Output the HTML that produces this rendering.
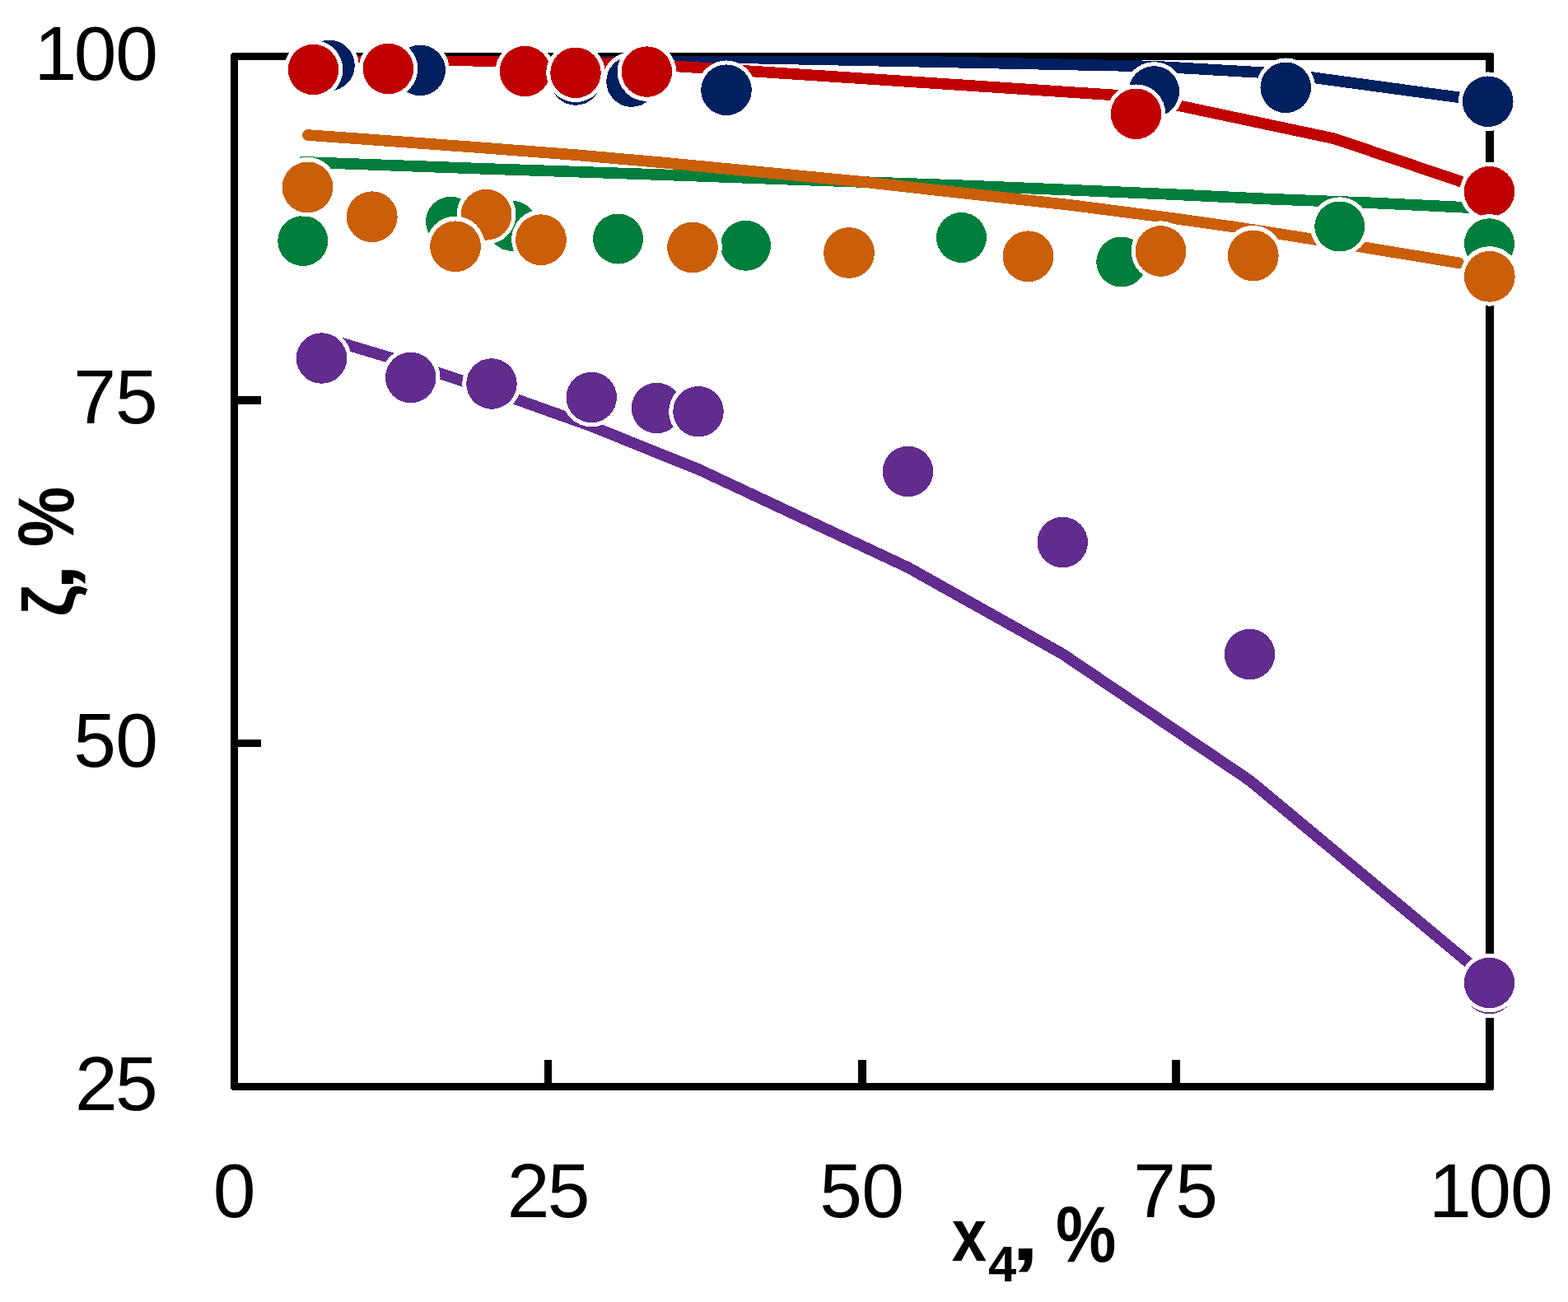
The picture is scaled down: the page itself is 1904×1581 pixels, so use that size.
<!DOCTYPE html>
<html lang="en">
<head>
<meta charset="utf-8">
<title>Chart</title>
<style>
html,body{margin:0;padding:0;background:#fff;}
body{width:1904px;height:1581px;overflow:hidden;}
svg{display:block;}
text{font-family:"Liberation Sans",sans-serif;fill:#000;}
.t{font-size:93px;}
.b{font-weight:bold;}
</style>
</head>
<body>
<svg width="1904" height="1581" viewBox="0 0 1904 1581">
<rect x="0" y="0" width="1904" height="1581" fill="#fff"/>
<g shape-rendering="crispEdges">
<path fill="#000" fill-rule="evenodd" d="M282 64H1812L1814 66V1322L1812 1324H282L280 1322V66ZM289 73V1315H1804V73Z"/>
<rect x="289" y="481" width="28" height="10" fill="#000"/>
<rect x="289" y="898" width="28" height="9" fill="#000"/>
<rect x="661" y="1287" width="9" height="28" fill="#000"/>
<rect x="1042" y="1287" width="10" height="28" fill="#000"/>
<rect x="1423" y="1287" width="10" height="28" fill="#000"/>
<clipPath id="plot"><rect x="284" y="68" width="1526" height="1252"/></clipPath>
<g clip-path="url(#plot)" fill="none" stroke-width="13.6" stroke-linecap="round" stroke-linejoin="round">
<polyline stroke="#622B8E" points="390.5,409.3 498.75,441.8 597,474.2 718.25,517.5 797.5,549.6 848,569.8 1102.5,689 1290.25,794.1 1517.5,947.7 1808.5,1190"/>
<polyline stroke="#002060" points="400,69 882,69.9 1401.5,80.6 1561.25,89.7 1806.75,123.05"/>
<polyline stroke="#C00000" points="380.5,72 471.5,72.6 570,73.65 636.25,74.6 699,76 735,77.05 785.5,78.1 1379.5,117.2 1620.5,168.4 1809,232.4"/>
<polyline stroke="#007F3C" points="367.75,196.8 580,204.6 700,208.6 800,212.05 1050,221.1 1180,225.7 1300,230.7 1420,235.87 1540,241.6 1670,246.55 1774,251.6 1809,253.3"/>
<polyline stroke="#CB5F09" points="374,164.05 450,169.5 580,179 700,188.2 800,197 1050,221.05 1180,235.7 1300,249 1420,264.46 1496,275.15 1540,281.9 1660,300.9 1771.3,319.3"/>
</g>
<g fill="#622B8E">
<ellipse cx="390.5" cy="435" rx="35.8" ry="35.8" fill="#fff"/><circle cx="390.5" cy="435" r="30.75"/>
<ellipse cx="498.75" cy="458.5" rx="35.8" ry="35.8" fill="#fff"/><circle cx="498.75" cy="458.5" r="30.75"/>
<ellipse cx="597" cy="466" rx="35.8" ry="35.8" fill="#fff"/><circle cx="597" cy="466" r="30.75"/>
<ellipse cx="718.25" cy="482.5" rx="35.8" ry="35.8" fill="#fff"/><circle cx="718.25" cy="482.5" r="30.75"/>
<ellipse cx="797.5" cy="495.5" rx="35.8" ry="35.8" fill="#fff"/><circle cx="797.5" cy="495.5" r="30.75"/>
<ellipse cx="848" cy="499.75" rx="35.8" ry="35.8" fill="#fff"/><circle cx="848" cy="499.75" r="30.75"/>
<ellipse cx="1102.5" cy="572.5" rx="35.8" ry="35.8" fill="#fff"/><circle cx="1102.5" cy="572.5" r="30.75"/>
<ellipse cx="1290.25" cy="658.5" rx="35.8" ry="35.8" fill="#fff"/><circle cx="1290.25" cy="658.5" r="30.75"/>
<ellipse cx="1517.5" cy="794.5" rx="35.8" ry="35.8" fill="#fff"/><circle cx="1517.5" cy="794.5" r="30.75"/>
<ellipse cx="1808.5" cy="1200.5" rx="35.8" ry="35.8" fill="#fff"/><circle cx="1808.5" cy="1200.5" r="30.75"/>
<ellipse cx="1808.5" cy="1193.5" rx="35.8" ry="35.8" fill="#fff"/><circle cx="1808.5" cy="1193.5" r="30.75"/>
</g>
<g fill="#002060">
<ellipse cx="400" cy="79.5" rx="35.85" ry="35.85" fill="#fff"/><circle cx="400" cy="79.5" r="30.8"/>
<ellipse cx="510.2" cy="85.35" rx="35.85" ry="35.85" fill="#fff"/><circle cx="510.2" cy="85.35" r="30.8"/>
<ellipse cx="699" cy="97" rx="35.85" ry="35.85" fill="#fff"/><circle cx="699" cy="97" r="30.8"/>
<ellipse cx="767" cy="99" rx="35.85" ry="35.85" fill="#fff"/><circle cx="767" cy="99" r="30.8"/>
<ellipse cx="882" cy="109.25" rx="35.85" ry="35.85" fill="#fff"/><circle cx="882" cy="109.25" r="30.8"/>
<ellipse cx="1401.3" cy="111" rx="35.85" ry="35.85" fill="#fff"/><circle cx="1401.3" cy="111" r="30.8"/>
<ellipse cx="1561.25" cy="106.3" rx="35.85" ry="35.85" fill="#fff"/><circle cx="1561.25" cy="106.3" r="30.8"/>
<ellipse cx="1806.75" cy="123.25" rx="35.85" ry="35.85" fill="#fff"/><circle cx="1806.75" cy="123.25" r="30.8"/>
</g>
<g fill="#C00000">
<ellipse cx="380.5" cy="84.5" rx="35.8" ry="35.8" fill="#fff"/><circle cx="380.5" cy="84.5" r="30.75"/>
<ellipse cx="471.4" cy="83.45" rx="35.8" ry="35.8" fill="#fff"/><circle cx="471.4" cy="83.45" r="30.75"/>
<ellipse cx="637.4" cy="86.5" rx="35.8" ry="35.8" fill="#fff"/><circle cx="637.4" cy="86.5" r="30.75"/>
<ellipse cx="699" cy="88.3" rx="35.8" ry="35.8" fill="#fff"/><circle cx="699" cy="88.3" r="30.75"/>
<ellipse cx="785.4" cy="87.1" rx="35.8" ry="35.8" fill="#fff"/><circle cx="785.4" cy="87.1" r="30.75"/>
<ellipse cx="1379.5" cy="138.25" rx="35.8" ry="35.8" fill="#fff"/><circle cx="1379.5" cy="138.25" r="30.75"/>
<ellipse cx="1808.5" cy="232.75" rx="35.8" ry="35.8" fill="#fff"/><circle cx="1808.5" cy="232.75" r="30.75"/>
</g>
<g fill="#007F3C">
<ellipse cx="367.75" cy="292.5" rx="35.7" ry="35.7" fill="#fff"/><circle cx="367.75" cy="292.5" r="30.5"/>
<ellipse cx="547.5" cy="269.25" rx="35.7" ry="35.7" fill="#fff"/><circle cx="547.5" cy="269.25" r="30.5"/>
<ellipse cx="622.2" cy="274.4" rx="35.7" ry="35.7" fill="#fff"/><circle cx="622.2" cy="274.4" r="30.5"/>
<ellipse cx="750.5" cy="290" rx="35.7" ry="35.7" fill="#fff"/><circle cx="750.5" cy="290" r="30.5"/>
<ellipse cx="905.5" cy="298.25" rx="35.7" ry="35.7" fill="#fff"/><circle cx="905.5" cy="298.25" r="30.5"/>
<ellipse cx="1167.5" cy="288.5" rx="35.7" ry="35.7" fill="#fff"/><circle cx="1167.5" cy="288.5" r="30.5"/>
<ellipse cx="1361.75" cy="318" rx="35.7" ry="35.7" fill="#fff"/><circle cx="1361.75" cy="318" r="30.5"/>
<ellipse cx="1626.75" cy="275" rx="35.7" ry="35.7" fill="#fff"/><circle cx="1626.75" cy="275" r="30.5"/>
<ellipse cx="1808.5" cy="295.8" rx="35.7" ry="35.7" fill="#fff"/><circle cx="1808.5" cy="295.8" r="30.5"/>
</g>
<g fill="#CB5F09">
<ellipse cx="373.5" cy="227.1" rx="35.9" ry="36.3" fill="#fff"/><circle cx="373.5" cy="227.5" r="30.9"/>
<ellipse cx="451.75" cy="262.85" rx="35.9" ry="36.3" fill="#fff"/><circle cx="451.75" cy="263.25" r="30.9"/>
<ellipse cx="590.6" cy="260.35" rx="35.9" ry="36.3" fill="#fff"/><circle cx="590.6" cy="260.75" r="30.9"/>
<ellipse cx="553.05" cy="298.9" rx="35.9" ry="36.3" fill="#fff"/><circle cx="553.05" cy="299.3" r="30.9"/>
<ellipse cx="657" cy="290.85" rx="35.9" ry="36.3" fill="#fff"/><circle cx="657" cy="291.25" r="30.9"/>
<ellipse cx="841" cy="300.1" rx="35.9" ry="36.3" fill="#fff"/><circle cx="841" cy="300.5" r="30.9"/>
<ellipse cx="1031" cy="306.6" rx="35.9" ry="36.3" fill="#fff"/><circle cx="1031" cy="307" r="30.9"/>
<ellipse cx="1248.5" cy="310.85" rx="35.9" ry="36.3" fill="#fff"/><circle cx="1248.5" cy="311.25" r="30.9"/>
<ellipse cx="1409.5" cy="304.6" rx="35.9" ry="36.3" fill="#fff"/><circle cx="1409.5" cy="305" r="30.9"/>
<ellipse cx="1521.75" cy="310.1" rx="35.9" ry="36.3" fill="#fff"/><circle cx="1521.75" cy="310.5" r="30.9"/>
<ellipse cx="1808.8" cy="335.4" rx="35.9" ry="36.3" fill="#fff"/><circle cx="1808.8" cy="335.8" r="30.9"/>
</g>
</g>
<text class="t" x="41.52 89.68 140.36" y="96.8">100</text>
<text class="t" x="89.23 140.05" y="514.3">75</text>
<text class="t" x="89.37 140.36" y="931.3">50</text>
<text class="t" x="90.98 140.05" y="1347.8">25</text>
<text class="t" x="258.70" y="1477.9">0</text>
<text class="t" x="615.76 664.83" y="1477.9">25</text>
<text class="t" x="995.30 1046.29" y="1477.9">50</text>
<text class="t" x="1376.31 1427.13" y="1477.9">75</text>
<text class="t" x="1735.04 1783.20 1833.88" y="1477.9">100</text>
<text class="b" ><tspan x="1155.70" y="1531.00" font-size="90" textLength="42.30" lengthAdjust="spacingAndGlyphs">x</tspan><tspan x="1200.00" y="1555.90" font-size="62" textLength="34.14" lengthAdjust="spacingAndGlyphs">4</tspan><tspan x="1228.60" y="1530.30" font-size="95" textLength="32.99" lengthAdjust="spacingAndGlyphs">,</tspan><tspan x="1259.15" y="1532.25" font-size="96" textLength="96.24" lengthAdjust="spacingAndGlyphs"> %</tspan></text>
<text class="b" transform="translate(89.2,746) rotate(-90)"><tspan x="-2.70" y="0.00" font-size="88" textLength="38.37" lengthAdjust="spacingAndGlyphs">ζ</tspan><tspan x="28.70" y="0.00" font-size="95" textLength="32.99" lengthAdjust="spacingAndGlyphs">,</tspan><tspan x="58.95" y="0.00" font-size="96" textLength="96.24" lengthAdjust="spacingAndGlyphs"> %</tspan></text>
</svg>
</body>
</html>
